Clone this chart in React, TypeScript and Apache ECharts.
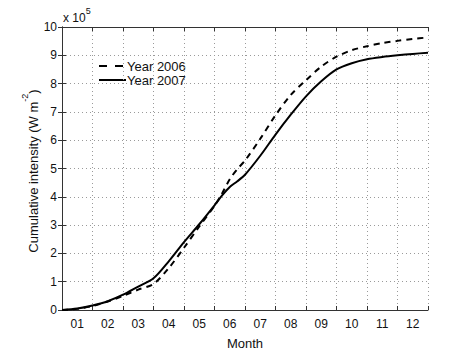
import React, { useEffect, useRef } from "react";
import * as echarts from "echarts";

const monthLabels = ["01", "02", "03", "04", "05", "06", "07", "08", "09", "10", "11", "12"];
const monthPos = [0, 0.5, 1, 1.5, 2, 2.5, 3, 3.5, 4, 4.5, 5, 5.25, 5.5, 5.75, 6, 6.5, 7, 7.5, 8, 8.5, 9, 9.5, 10, 10.5, 11, 11.5, 12];
const year2006 = [0, 0.04, 0.14, 0.3, 0.5, 0.72, 0.92, 1.48, 2.2, 2.95, 3.68, 4.12, 4.62, 4.98, 5.28, 6.05, 6.88, 7.6, 8.12, 8.6, 8.95, 9.18, 9.32, 9.43, 9.51, 9.58, 9.63];
const year2007 = [0, 0.05, 0.16, 0.31, 0.54, 0.83, 1.12, 1.72, 2.4, 3.03, 3.7, 4.05, 4.35, 4.55, 4.78, 5.45, 6.2, 6.9, 7.55, 8.08, 8.5, 8.72, 8.86, 8.94, 9.0, 9.05, 9.09];
const yTicks = { min: 0, max: 10, interval: 1 };
const seriesNames = ["Year 2006", "Year 2007"];

const FONT = "'Liberation Sans', Arial, Helvetica, sans-serif";

export default function App() {
  const ref = useRef<HTMLDivElement>(null);
  useEffect(() => {
    const chart = echarts.init(ref.current!, null, { renderer: "svg" });
    const gridLine = { show: true, lineStyle: { color: "#9a9a9a", type: [1, 3] as any, width: 1 } };
    const axisLine = { show: true, lineStyle: { color: "#333", width: 1 } };
    const tick = { show: true, inside: true, length: 4, lineStyle: { color: "#333" } };
    chart.setOption({
      animation: false,
      backgroundColor: "#fff",
      grid: { left: 62, right: 46, top: 27, bottom: 39, containLabel: false },
      xAxis: [
        {
          type: "value",
          min: 0,
          max: 12,
          interval: 1,
          position: "bottom",
          axisLine,
          axisTick: tick,
          axisLabel: { show: false },
          splitLine: gridLine,
        },
        {
          type: "category",
          data: monthLabels,
          boundaryGap: true,
          position: "bottom",
          axisLine: { show: false },
          axisTick: { show: false },
          splitLine: { show: false },
          axisLabel: { fontFamily: FONT, fontSize: 12, color: "#111", margin: 8 },
          name: "Month",
          nameLocation: "middle",
          nameGap: 27,
          nameTextStyle: { fontFamily: FONT, fontSize: 13, color: "#111" },
        },
        {
          type: "value",
          min: 0,
          max: 12,
          interval: 1,
          position: "top",
          axisLine,
          axisTick: tick,
          axisLabel: { show: false },
          splitLine: { show: false },
        },
      ],
      yAxis: [
        {
          type: "value",
          ...yTicks,
          position: "left",
          axisLine,
          axisTick: tick,
          axisLabel: { fontFamily: FONT, fontSize: 12, color: "#111", margin: 5 },
          splitLine: gridLine,
        },
        {
          type: "value",
          ...yTicks,
          position: "right",
          axisLine,
          axisTick: tick,
          axisLabel: { show: false },
          splitLine: { show: false },
        },
      ],
      series: [
        {
          name: seriesNames[0],
          type: "line",
          showSymbol: false,
          symbol: "none",
          smooth: 0.3,
          data: monthPos.map((m, i) => [m, year2006[i]]),
          lineStyle: { color: "#000", width: 2, type: [6, 5] as any },
        },
        {
          name: seriesNames[1],
          type: "line",
          showSymbol: false,
          symbol: "none",
          smooth: 0.3,
          data: monthPos.map((m, i) => [m, year2007[i]]),
          lineStyle: { color: "#000", width: 2, type: "solid" },
        },
      ],
      graphic: [
        {
          type: "text",
          left: 63,
          top: 6,
          style: {
            text: "{a|x 10}{b|5}",
            rich: {
              a: { fontFamily: FONT, fontSize: 12, fill: "#111", padding: [6, 0, 0, 0] },
              b: { fontFamily: FONT, fontSize: 9, fill: "#111", verticalAlign: "top" },
            },
          },
        },
        {
          type: "text",
          x: 30,
          y: 171,
          rotation: Math.PI / 2,
          style: {
            text: "{a|Cumulative intensity (W m}{b|-2}{a|)}",
            align: "center",
            verticalAlign: "middle",
            rich: {
              a: { fontFamily: FONT, fontSize: 13, fill: "#111", padding: [6, 0, 0, 0] },
              b: { fontFamily: FONT, fontSize: 9, fill: "#111", verticalAlign: "top" },
            },
          },
        },
        {
          type: "line",
          shape: { x1: 99, y1: 66, x2: 123, y2: 66 },
          style: { stroke: "#000", lineWidth: 2, lineDash: [8, 8] },
        },
        {
          type: "text",
          x: 127,
          y: 66,
          style: { text: seriesNames[0], fontFamily: FONT, fontSize: 13, fill: "#111", verticalAlign: "middle" },
        },
        {
          type: "line",
          shape: { x1: 99, y1: 80, x2: 126, y2: 80 },
          style: { stroke: "#000", lineWidth: 2 },
        },
        {
          type: "text",
          x: 127,
          y: 80,
          style: { text: seriesNames[1], fontFamily: FONT, fontSize: 13, fill: "#111", verticalAlign: "middle" },
        },
      ],
    });
    return () => chart.dispose();
  }, []);
  return <div ref={ref} style={{ width: 474, height: 355, position: "absolute", left: 0, top: 0 }} />;
}
